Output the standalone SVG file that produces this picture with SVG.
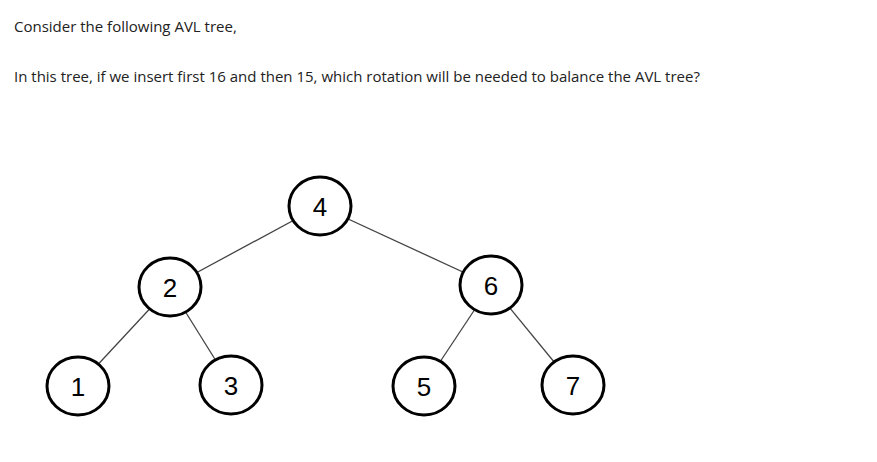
<svg xmlns="http://www.w3.org/2000/svg" width="877" height="462" viewBox="0 0 877 462">
<style>
.t{font-family:"Open Sans",sans-serif;font-size:15px;fill:#222}
.n ellipse{fill:#fff;stroke:#000;stroke-width:3}
.n text{font-family:"Liberation Sans",sans-serif;font-size:26px;fill:#000;text-anchor:middle}
#edges line{stroke:#444;stroke-width:1.3}
</style>
<rect width="877" height="462" fill="#fff"/>
<text class="t" x="14" y="32">Consider the following AVL tree,</text>
<text class="t" x="14" y="82">In this tree, if we insert first 16 and then 15, which rotation will be needed to balance the AVL tree?</text>
<g id="edges">
<line x1="320" y1="206" x2="170" y2="287"/>
<line x1="320" y1="206" x2="491" y2="285"/>
<line x1="170" y1="287" x2="78" y2="386"/>
<line x1="170" y1="287" x2="231" y2="385"/>
<line x1="491" y1="285" x2="424" y2="386"/>
<line x1="491" y1="285" x2="573" y2="385"/>
</g>
<g id="n4" class="n"><ellipse cx="320" cy="206" rx="31" ry="29"/><text x="320" y="216">4</text></g>
<g id="n2" class="n"><ellipse cx="170" cy="287" rx="31" ry="29"/><text x="170" y="297">2</text></g>
<g id="n6" class="n"><ellipse cx="491" cy="285" rx="31" ry="29"/><text x="491" y="295">6</text></g>
<g id="n1" class="n"><ellipse cx="78" cy="386" rx="31" ry="29"/><text x="78" y="396">1</text></g>
<g id="n3" class="n"><ellipse cx="231" cy="385" rx="31" ry="29"/><text x="231" y="395">3</text></g>
<g id="n5" class="n"><ellipse cx="424" cy="386" rx="31" ry="29"/><text x="424" y="396">5</text></g>
<g id="n7" class="n"><ellipse cx="573" cy="385" rx="31" ry="29"/><text x="573" y="395">7</text></g>
</svg>
